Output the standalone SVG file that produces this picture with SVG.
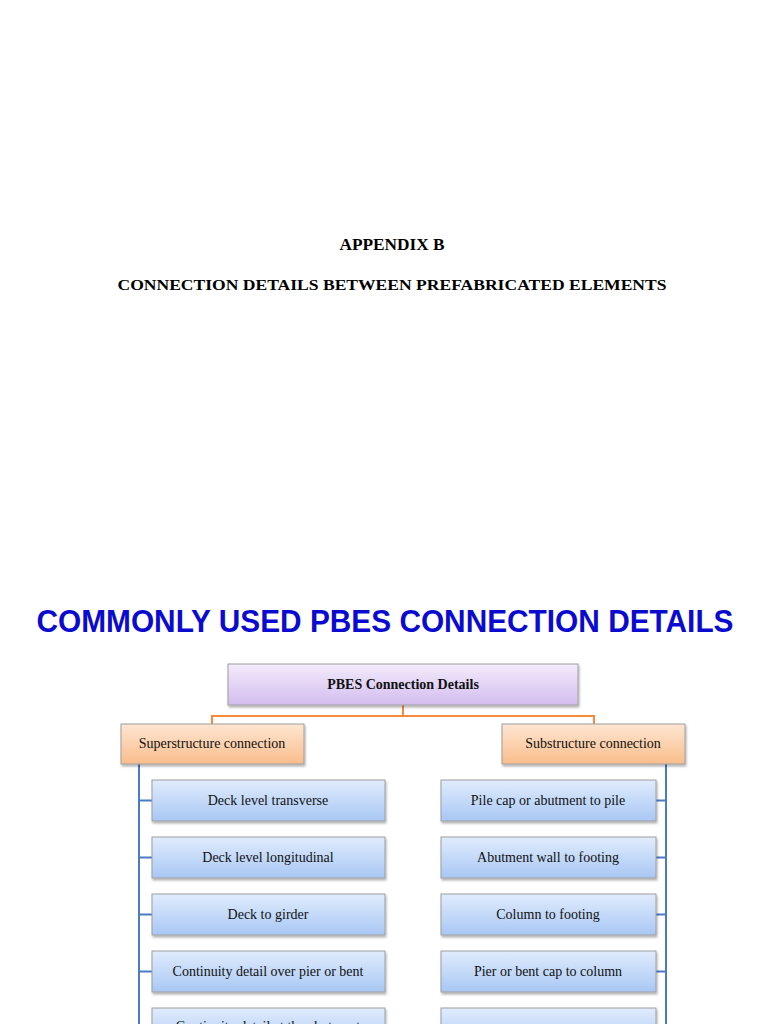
<svg xmlns="http://www.w3.org/2000/svg" width="768" height="1024" viewBox="0 0 768 1024">
<defs>
<linearGradient id="gPurple" x1="0" y1="0" x2="0" y2="1"><stop offset="0" stop-color="#f3ebfb"/><stop offset="1" stop-color="#d3bdef"/></linearGradient>
<linearGradient id="gOrange" x1="0" y1="0" x2="0" y2="1"><stop offset="0" stop-color="#fee6d2"/><stop offset="1" stop-color="#f9bd8b"/></linearGradient>
<linearGradient id="gBlue" x1="0" y1="0" x2="0" y2="1"><stop offset="0" stop-color="#e0ecfd"/><stop offset="1" stop-color="#a8c7f4"/></linearGradient>
<filter id="sh" x="-10%" y="-20%" width="130%" height="160%"><feDropShadow dx="1" dy="2" stdDeviation="1.2" flood-color="#000" flood-opacity="0.3"/></filter>
<style>
.hdr{font-family:"Liberation Serif",serif;font-weight:bold;font-size:15px;fill:#000;text-anchor:middle}
.big{font-family:"Liberation Sans",Arial,sans-serif;font-weight:bold;font-size:31px;fill:#0a0ad0;text-anchor:middle}
.t{font-family:"Liberation Serif",serif;font-size:14px;fill:#111;text-anchor:middle}
.tb{font-family:"Liberation Serif",serif;font-size:14px;font-weight:bold;fill:#111;text-anchor:middle}
.box{stroke:#9e9e9e;stroke-width:1;filter:url(#sh)}
.p{fill:url(#gPurple)}
.o{fill:url(#gOrange)}
.b{fill:url(#gBlue)}
.oc{stroke:#f58a3a;stroke-width:2;fill:none}
.bc{stroke:#4a7cc4;stroke-width:2;fill:none}
</style>
</defs>
<rect width="768" height="1024" fill="#fff"/>
<text class="hdr" x="392" y="250" style="font-size:16px" textLength="105" lengthAdjust="spacingAndGlyphs">APPENDIX B</text>
<text class="hdr" x="392" y="290" textLength="549" lengthAdjust="spacingAndGlyphs">CONNECTION DETAILS BETWEEN PREFABRICATED ELEMENTS</text>
<text class="big" x="385" y="632" textLength="697" lengthAdjust="spacingAndGlyphs">COMMONLY USED PBES CONNECTION DETAILS</text>
<g id="connectors">
<path class="oc" d="M403 705 V716 M212 724 V716 H594 V724"/>
<path class="bc" d="M139 764 V1024 M139 800.5 H152 M139 857.5 H152 M139 914.5 H152 M139 971.5 H152"/>
<path class="bc" d="M666 764 V1024 M656 800.5 H666 M656 857.5 H666 M656 914.5 H666 M656 971.5 H666"/>
</g>
<g id="root"><rect class="box p" x="228" y="664" width="350" height="41"/><text class="tb" x="403" y="689">PBES Connection Details</text></g>
<g id="super"><rect class="box o" x="121" y="724" width="183" height="40"/><text class="t" x="212" y="748">Superstructure connection</text></g>
<g id="sub"><rect class="box o" x="502" y="724" width="183" height="40"/><text class="t" x="593" y="748">Substructure connection</text></g>
<g id="l1"><rect class="box b" x="152" y="780" width="233" height="41"/><text class="t" x="268" y="805">Deck level transverse</text></g>
<g id="l2"><rect class="box b" x="152" y="837" width="233" height="41"/><text class="t" x="268" y="862">Deck level longitudinal</text></g>
<g id="l3"><rect class="box b" x="152" y="894" width="233" height="41"/><text class="t" x="268" y="919">Deck to girder</text></g>
<g id="l4"><rect class="box b" x="152" y="951" width="233" height="41"/><text class="t" x="268" y="976">Continuity detail over pier or bent</text></g>
<g id="l5"><rect class="box b" x="152" y="1008" width="233" height="41"/><text class="t" x="268" y="1031">Continuity detail at the abutment</text></g>
<g id="r1"><rect class="box b" x="441" y="780" width="215" height="41"/><text class="t" x="548" y="805">Pile cap or abutment to pile</text></g>
<g id="r2"><rect class="box b" x="441" y="837" width="215" height="41"/><text class="t" x="548" y="862">Abutment wall to footing</text></g>
<g id="r3"><rect class="box b" x="441" y="894" width="215" height="41"/><text class="t" x="548" y="919">Column to footing</text></g>
<g id="r4"><rect class="box b" x="441" y="951" width="215" height="41"/><text class="t" x="548" y="976">Pier or bent cap to column</text></g>
<g id="r5"><rect class="box b" x="441" y="1008" width="215" height="41"/></g>
</svg>
